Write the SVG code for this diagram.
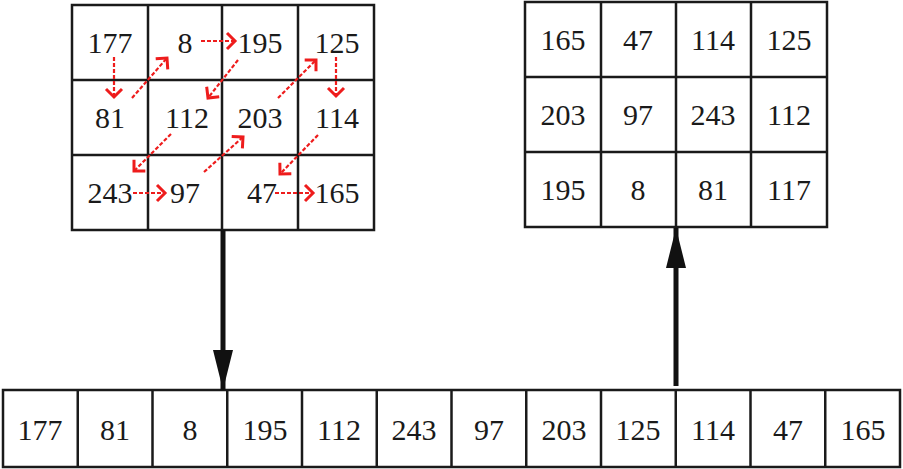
<svg xmlns="http://www.w3.org/2000/svg" width="903" height="469" viewBox="0 0 903 469">
<style>
.g{fill:none;stroke:#1a1a1a;stroke-width:2.5}
text{font-family:"Liberation Serif","Times New Roman",Times,serif;font-size:30px;fill:#1a1a1a;text-anchor:middle}
.r{stroke:#ee1c1c;stroke-width:2.2;stroke-dasharray:4 2;fill:none}
.b{stroke:#111;stroke-width:5}
</style>
<defs>
<marker id="ch" viewBox="-10 -10 20 20" refX="0" refY="0" markerWidth="20" markerHeight="20" orient="auto" markerUnits="userSpaceOnUse" overflow="visible">
<path d="M-8,-8 L0,0 L-8,8" fill="none" stroke="#ee1c1c" stroke-width="3"/>
</marker>
<marker id="tri" viewBox="0 0 40 20" refX="40" refY="10" markerWidth="40" markerHeight="20" orient="auto" markerUnits="userSpaceOnUse">
<path d="M0,0 L40,10 L0,20 z" fill="#111"/>
</marker>
</defs>
<g id="left-grid">
<rect class="g" x="72" y="5" width="302" height="225"/>
<path class="g" d="M148,5V230M222,5V230M298,5V230M72,80H374M72,155H374"/>
<text x="110" y="53">177</text><text x="185" y="53">8</text><text x="260" y="53">195</text><text x="337" y="53">125</text>
<text x="110" y="128">81</text><text x="187" y="128">112</text><text x="260" y="128">203</text><text x="337" y="128">114</text>
<text x="110" y="203">243</text><text x="185" y="203">97</text><text x="262" y="203">47</text><text x="337" y="203">165</text>
</g>
<g id="right-grid">
<rect class="g" x="525" y="2" width="302" height="225"/>
<path class="g" d="M601,2V227M676,2V227M751,2V227M525,77H827M525,152H827"/>
<text x="563" y="50">165</text><text x="638" y="50">47</text><text x="713" y="50">114</text><text x="789" y="50">125</text>
<text x="563" y="125">203</text><text x="638" y="125">97</text><text x="713" y="125">243</text><text x="789" y="125">112</text>
<text x="563" y="200">195</text><text x="638" y="200">8</text><text x="713" y="200">81</text><text x="789" y="200">117</text>
</g>
<g id="bottom-row">
<rect class="g" x="3" y="390" width="897" height="77"/>
<path class="g" d="M77.75,390V467M152.5,390V467M227.25,390V467M302,390V467M376.75,390V467M451.5,390V467M526.25,390V467M601,390V467M675.75,390V467M750.5,390V467M825.25,390V467"/>
<text x="40" y="440">177</text><text x="115" y="440">81</text><text x="190" y="440">8</text><text x="265" y="440">195</text><text x="339" y="440">112</text><text x="414" y="440">243</text><text x="489" y="440">97</text><text x="564" y="440">203</text><text x="638" y="440">125</text><text x="713" y="440">114</text><text x="788" y="440">47</text><text x="863" y="440">165</text>
</g>
<g id="connectors">
<path class="r" marker-end="url(#ch)" d="M114,57V97"/>
<path class="r" marker-end="url(#ch)" d="M132,98L167,58"/>
<path class="r" marker-end="url(#ch)" d="M201,41H235"/>
<path class="r" marker-end="url(#ch)" d="M238,60L208,98"/>
<path class="r" marker-end="url(#ch)" d="M278,98L316,60"/>
<path class="r" marker-end="url(#ch)" d="M336,57V96"/>
<path class="r" marker-end="url(#ch)" d="M171,134L134,171"/>
<path class="r" marker-end="url(#ch)" d="M204,172L243,137"/>
<path class="r" marker-end="url(#ch)" d="M318,135L280,174"/>
<path class="r" marker-end="url(#ch)" d="M133,193H165"/>
<path class="r" marker-end="url(#ch)" d="M275,193H313"/>
<path class="b" marker-end="url(#tri)" d="M223,230V390"/>
<path class="b" marker-end="url(#tri)" d="M676,386V228"/>
</g>
</svg>
